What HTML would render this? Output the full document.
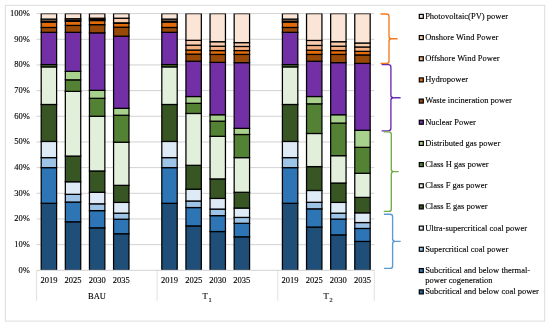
<!DOCTYPE html>
<html><head><meta charset="utf-8"><title>Power structure chart</title>
<style>html,body{margin:0;padding:0;background:#fff}svg text{white-space:pre}</style></head>
<body>
<svg width="550" height="326" viewBox="0 0 550 326" style="display:block">
<rect x="0" y="0" width="550" height="326" fill="#fff"/>
<rect x="5.3" y="5.3" width="539.4" height="315.8" fill="none" stroke="#d9d9d9" stroke-width="0.9"/>
<line x1="36.60" y1="270.30" x2="374.28" y2="270.30" stroke="#d0d0d0" stroke-width="0.95"/>
<line x1="36.60" y1="244.63" x2="374.28" y2="244.63" stroke="#d0d0d0" stroke-width="0.95"/>
<line x1="36.60" y1="218.96" x2="374.28" y2="218.96" stroke="#d0d0d0" stroke-width="0.95"/>
<line x1="36.60" y1="193.29" x2="374.28" y2="193.29" stroke="#d0d0d0" stroke-width="0.95"/>
<line x1="36.60" y1="167.62" x2="374.28" y2="167.62" stroke="#d0d0d0" stroke-width="0.95"/>
<line x1="36.60" y1="141.95" x2="374.28" y2="141.95" stroke="#d0d0d0" stroke-width="0.95"/>
<line x1="36.60" y1="116.28" x2="374.28" y2="116.28" stroke="#d0d0d0" stroke-width="0.95"/>
<line x1="36.60" y1="90.61" x2="374.28" y2="90.61" stroke="#d0d0d0" stroke-width="0.95"/>
<line x1="36.60" y1="64.94" x2="374.28" y2="64.94" stroke="#d0d0d0" stroke-width="0.95"/>
<line x1="36.60" y1="39.27" x2="374.28" y2="39.27" stroke="#d0d0d0" stroke-width="0.95"/>
<line x1="36.60" y1="13.60" x2="374.28" y2="13.60" stroke="#d0d0d0" stroke-width="0.95"/>
<line x1="36.60" y1="270.30" x2="36.60" y2="300.8" stroke="#d9d9d9" stroke-width="0.8"/>
<line x1="157.10" y1="270.30" x2="157.10" y2="300.8" stroke="#d9d9d9" stroke-width="0.8"/>
<line x1="277.80" y1="270.30" x2="277.80" y2="300.8" stroke="#d9d9d9" stroke-width="0.8"/>
<line x1="374.28" y1="270.30" x2="374.28" y2="300.8" stroke="#d9d9d9" stroke-width="0.8"/>
<text x="29.8" y="272.80" text-anchor="end" font-family="Liberation Serif, Times New Roman, serif" font-size="8.5" fill="#000" stroke="#000" stroke-width="0.12">0%</text>
<text x="29.8" y="247.13" text-anchor="end" font-family="Liberation Serif, Times New Roman, serif" font-size="8.5" fill="#000" stroke="#000" stroke-width="0.12">10%</text>
<text x="29.8" y="221.46" text-anchor="end" font-family="Liberation Serif, Times New Roman, serif" font-size="8.5" fill="#000" stroke="#000" stroke-width="0.12">20%</text>
<text x="29.8" y="195.79" text-anchor="end" font-family="Liberation Serif, Times New Roman, serif" font-size="8.5" fill="#000" stroke="#000" stroke-width="0.12">30%</text>
<text x="29.8" y="170.12" text-anchor="end" font-family="Liberation Serif, Times New Roman, serif" font-size="8.5" fill="#000" stroke="#000" stroke-width="0.12">40%</text>
<text x="29.8" y="144.45" text-anchor="end" font-family="Liberation Serif, Times New Roman, serif" font-size="8.5" fill="#000" stroke="#000" stroke-width="0.12">50%</text>
<text x="29.8" y="118.78" text-anchor="end" font-family="Liberation Serif, Times New Roman, serif" font-size="8.5" fill="#000" stroke="#000" stroke-width="0.12">60%</text>
<text x="29.8" y="93.11" text-anchor="end" font-family="Liberation Serif, Times New Roman, serif" font-size="8.5" fill="#000" stroke="#000" stroke-width="0.12">70%</text>
<text x="29.8" y="67.44" text-anchor="end" font-family="Liberation Serif, Times New Roman, serif" font-size="8.5" fill="#000" stroke="#000" stroke-width="0.12">80%</text>
<text x="29.8" y="41.77" text-anchor="end" font-family="Liberation Serif, Times New Roman, serif" font-size="8.5" fill="#000" stroke="#000" stroke-width="0.12">90%</text>
<text x="29.8" y="16.10" text-anchor="end" font-family="Liberation Serif, Times New Roman, serif" font-size="8.5" fill="#000" stroke="#000" stroke-width="0.12">100%</text>
<defs><clipPath id="plot"><rect x="36.60" y="13.45" width="337.68" height="256.35"/></clipPath></defs>
<g clip-path="url(#plot)">
<rect x="41.21" y="203.30" width="15.40" height="67.00" fill="#1f4e79" stroke="#000" stroke-width="1.25"/>
<rect x="41.21" y="167.62" width="15.40" height="35.68" fill="#2e75b6" stroke="#000" stroke-width="1.25"/>
<rect x="41.21" y="157.61" width="15.40" height="10.01" fill="#9dc3e6" stroke="#000" stroke-width="1.25"/>
<rect x="41.21" y="141.44" width="15.40" height="16.17" fill="#deebf7" stroke="#000" stroke-width="1.25"/>
<rect x="41.21" y="104.47" width="15.40" height="36.96" fill="#375623" stroke="#000" stroke-width="1.25"/>
<rect x="41.21" y="66.87" width="15.40" height="37.61" fill="#e2efda" stroke="#000" stroke-width="1.25"/>
<rect x="41.21" y="64.55" width="15.40" height="2.31" fill="#548235" stroke="#000" stroke-width="1.25"/>
<rect x="41.21" y="32.34" width="15.40" height="32.22" fill="#7330a6" stroke="#000" stroke-width="1.25"/>
<rect x="41.21" y="27.46" width="15.40" height="4.88" fill="#984807" stroke="#000" stroke-width="1.25"/>
<rect x="41.21" y="22.07" width="15.40" height="5.39" fill="#e36c0a" stroke="#000" stroke-width="1.25"/>
<rect x="41.21" y="21.04" width="15.40" height="1.03" fill="#f4b183" stroke="#000" stroke-width="1.25"/>
<rect x="41.21" y="19.09" width="15.40" height="1.95" fill="#f8cbad" stroke="#000" stroke-width="1.25"/>
<rect x="41.21" y="13.60" width="15.40" height="5.49" fill="#fbe5d6" stroke="#000" stroke-width="1.25"/>
<rect x="65.33" y="221.78" width="15.40" height="48.52" fill="#1f4e79" stroke="#000" stroke-width="1.25"/>
<rect x="65.33" y="202.02" width="15.40" height="19.77" fill="#2e75b6" stroke="#000" stroke-width="1.25"/>
<rect x="65.33" y="194.32" width="15.40" height="7.70" fill="#9dc3e6" stroke="#000" stroke-width="1.25"/>
<rect x="65.33" y="181.74" width="15.40" height="12.58" fill="#deebf7" stroke="#000" stroke-width="1.25"/>
<rect x="65.33" y="156.07" width="15.40" height="25.67" fill="#375623" stroke="#000" stroke-width="1.25"/>
<rect x="65.33" y="91.38" width="15.40" height="64.69" fill="#e2efda" stroke="#000" stroke-width="1.25"/>
<rect x="65.33" y="79.83" width="15.40" height="11.55" fill="#548235" stroke="#000" stroke-width="1.25"/>
<rect x="65.33" y="71.36" width="15.40" height="8.47" fill="#a9d18e" stroke="#000" stroke-width="1.25"/>
<rect x="65.33" y="32.34" width="15.40" height="39.02" fill="#7330a6" stroke="#000" stroke-width="1.25"/>
<rect x="65.33" y="25.41" width="15.40" height="6.93" fill="#984807" stroke="#000" stroke-width="1.25"/>
<rect x="65.33" y="21.30" width="15.40" height="4.11" fill="#e36c0a" stroke="#000" stroke-width="1.25"/>
<rect x="65.33" y="20.27" width="15.40" height="1.03" fill="#f4b183" stroke="#000" stroke-width="1.25"/>
<rect x="65.33" y="18.73" width="15.40" height="1.54" fill="#f8cbad" stroke="#000" stroke-width="1.25"/>
<rect x="65.33" y="13.60" width="15.40" height="5.13" fill="#fbe5d6" stroke="#000" stroke-width="1.25"/>
<rect x="89.45" y="227.82" width="15.40" height="42.48" fill="#1f4e79" stroke="#000" stroke-width="1.25"/>
<rect x="89.45" y="210.62" width="15.40" height="17.20" fill="#2e75b6" stroke="#000" stroke-width="1.25"/>
<rect x="89.45" y="203.81" width="15.40" height="6.80" fill="#9dc3e6" stroke="#000" stroke-width="1.25"/>
<rect x="89.45" y="192.26" width="15.40" height="11.55" fill="#deebf7" stroke="#000" stroke-width="1.25"/>
<rect x="89.45" y="170.96" width="15.40" height="21.31" fill="#375623" stroke="#000" stroke-width="1.25"/>
<rect x="89.45" y="116.28" width="15.40" height="54.68" fill="#e2efda" stroke="#000" stroke-width="1.25"/>
<rect x="89.45" y="98.31" width="15.40" height="17.97" fill="#548235" stroke="#000" stroke-width="1.25"/>
<rect x="89.45" y="90.35" width="15.40" height="7.96" fill="#a9d18e" stroke="#000" stroke-width="1.25"/>
<rect x="89.45" y="32.85" width="15.40" height="57.50" fill="#7330a6" stroke="#000" stroke-width="1.25"/>
<rect x="89.45" y="24.64" width="15.40" height="8.21" fill="#984807" stroke="#000" stroke-width="1.25"/>
<rect x="89.45" y="20.53" width="15.40" height="4.11" fill="#e36c0a" stroke="#000" stroke-width="1.25"/>
<rect x="89.45" y="19.50" width="15.40" height="1.03" fill="#f4b183" stroke="#000" stroke-width="1.25"/>
<rect x="89.45" y="18.22" width="15.40" height="1.28" fill="#f8cbad" stroke="#000" stroke-width="1.25"/>
<rect x="89.45" y="13.60" width="15.40" height="4.62" fill="#fbe5d6" stroke="#000" stroke-width="1.25"/>
<rect x="113.57" y="233.72" width="15.40" height="36.58" fill="#1f4e79" stroke="#000" stroke-width="1.25"/>
<rect x="113.57" y="219.22" width="15.40" height="14.50" fill="#2e75b6" stroke="#000" stroke-width="1.25"/>
<rect x="113.57" y="213.18" width="15.40" height="6.03" fill="#9dc3e6" stroke="#000" stroke-width="1.25"/>
<rect x="113.57" y="202.40" width="15.40" height="10.78" fill="#deebf7" stroke="#000" stroke-width="1.25"/>
<rect x="113.57" y="185.33" width="15.40" height="17.07" fill="#375623" stroke="#000" stroke-width="1.25"/>
<rect x="113.57" y="142.21" width="15.40" height="43.13" fill="#e2efda" stroke="#000" stroke-width="1.25"/>
<rect x="113.57" y="115.25" width="15.40" height="26.95" fill="#548235" stroke="#000" stroke-width="1.25"/>
<rect x="113.57" y="108.32" width="15.40" height="6.93" fill="#a9d18e" stroke="#000" stroke-width="1.25"/>
<rect x="113.57" y="36.19" width="15.40" height="72.13" fill="#7330a6" stroke="#000" stroke-width="1.25"/>
<rect x="113.57" y="27.21" width="15.40" height="8.98" fill="#984807" stroke="#000" stroke-width="1.25"/>
<rect x="113.57" y="23.35" width="15.40" height="3.85" fill="#e36c0a" stroke="#000" stroke-width="1.25"/>
<rect x="113.57" y="22.84" width="15.40" height="0.51" fill="#f4b183" stroke="#000" stroke-width="1.25"/>
<rect x="113.57" y="18.22" width="15.40" height="4.62" fill="#f8cbad" stroke="#000" stroke-width="1.25"/>
<rect x="113.57" y="13.60" width="15.40" height="4.62" fill="#fbe5d6" stroke="#000" stroke-width="1.25"/>
<rect x="161.81" y="203.30" width="15.40" height="67.00" fill="#1f4e79" stroke="#000" stroke-width="1.25"/>
<rect x="161.81" y="167.62" width="15.40" height="35.68" fill="#2e75b6" stroke="#000" stroke-width="1.25"/>
<rect x="161.81" y="157.61" width="15.40" height="10.01" fill="#9dc3e6" stroke="#000" stroke-width="1.25"/>
<rect x="161.81" y="141.44" width="15.40" height="16.17" fill="#deebf7" stroke="#000" stroke-width="1.25"/>
<rect x="161.81" y="104.47" width="15.40" height="36.96" fill="#375623" stroke="#000" stroke-width="1.25"/>
<rect x="161.81" y="66.87" width="15.40" height="37.61" fill="#e2efda" stroke="#000" stroke-width="1.25"/>
<rect x="161.81" y="64.55" width="15.40" height="2.31" fill="#548235" stroke="#000" stroke-width="1.25"/>
<rect x="161.81" y="32.34" width="15.40" height="32.22" fill="#7330a6" stroke="#000" stroke-width="1.25"/>
<rect x="161.81" y="27.46" width="15.40" height="4.88" fill="#984807" stroke="#000" stroke-width="1.25"/>
<rect x="161.81" y="22.07" width="15.40" height="5.39" fill="#e36c0a" stroke="#000" stroke-width="1.25"/>
<rect x="161.81" y="21.04" width="15.40" height="1.03" fill="#f4b183" stroke="#000" stroke-width="1.25"/>
<rect x="161.81" y="19.09" width="15.40" height="1.95" fill="#f8cbad" stroke="#000" stroke-width="1.25"/>
<rect x="161.81" y="13.60" width="15.40" height="5.49" fill="#fbe5d6" stroke="#000" stroke-width="1.25"/>
<rect x="185.93" y="225.89" width="15.40" height="44.41" fill="#1f4e79" stroke="#000" stroke-width="1.25"/>
<rect x="185.93" y="207.54" width="15.40" height="18.35" fill="#2e75b6" stroke="#000" stroke-width="1.25"/>
<rect x="185.93" y="200.99" width="15.40" height="6.55" fill="#9dc3e6" stroke="#000" stroke-width="1.25"/>
<rect x="185.93" y="189.18" width="15.40" height="11.81" fill="#deebf7" stroke="#000" stroke-width="1.25"/>
<rect x="185.93" y="165.31" width="15.40" height="23.87" fill="#375623" stroke="#000" stroke-width="1.25"/>
<rect x="185.93" y="113.46" width="15.40" height="51.85" fill="#e2efda" stroke="#000" stroke-width="1.25"/>
<rect x="185.93" y="103.32" width="15.40" height="10.14" fill="#548235" stroke="#000" stroke-width="1.25"/>
<rect x="185.93" y="96.51" width="15.40" height="6.80" fill="#a9d18e" stroke="#000" stroke-width="1.25"/>
<rect x="185.93" y="61.22" width="15.40" height="35.30" fill="#7330a6" stroke="#000" stroke-width="1.25"/>
<rect x="185.93" y="54.16" width="15.40" height="7.06" fill="#984807" stroke="#000" stroke-width="1.25"/>
<rect x="185.93" y="50.05" width="15.40" height="4.11" fill="#e36c0a" stroke="#000" stroke-width="1.25"/>
<rect x="185.93" y="45.17" width="15.40" height="4.88" fill="#f4b183" stroke="#000" stroke-width="1.25"/>
<rect x="185.93" y="40.30" width="15.40" height="4.88" fill="#f8cbad" stroke="#000" stroke-width="1.25"/>
<rect x="185.93" y="13.60" width="15.40" height="26.70" fill="#fbe5d6" stroke="#000" stroke-width="1.25"/>
<rect x="210.05" y="231.54" width="15.40" height="38.76" fill="#1f4e79" stroke="#000" stroke-width="1.25"/>
<rect x="210.05" y="215.62" width="15.40" height="15.92" fill="#2e75b6" stroke="#000" stroke-width="1.25"/>
<rect x="210.05" y="209.08" width="15.40" height="6.55" fill="#9dc3e6" stroke="#000" stroke-width="1.25"/>
<rect x="210.05" y="198.42" width="15.40" height="10.65" fill="#deebf7" stroke="#000" stroke-width="1.25"/>
<rect x="210.05" y="178.91" width="15.40" height="19.51" fill="#375623" stroke="#000" stroke-width="1.25"/>
<rect x="210.05" y="136.30" width="15.40" height="42.61" fill="#e2efda" stroke="#000" stroke-width="1.25"/>
<rect x="210.05" y="121.16" width="15.40" height="15.15" fill="#548235" stroke="#000" stroke-width="1.25"/>
<rect x="210.05" y="114.74" width="15.40" height="6.42" fill="#a9d18e" stroke="#000" stroke-width="1.25"/>
<rect x="210.05" y="62.37" width="15.40" height="52.37" fill="#7330a6" stroke="#000" stroke-width="1.25"/>
<rect x="210.05" y="54.42" width="15.40" height="7.96" fill="#984807" stroke="#000" stroke-width="1.25"/>
<rect x="210.05" y="50.56" width="15.40" height="3.85" fill="#e36c0a" stroke="#000" stroke-width="1.25"/>
<rect x="210.05" y="46.20" width="15.40" height="4.36" fill="#f4b183" stroke="#000" stroke-width="1.25"/>
<rect x="210.05" y="41.71" width="15.40" height="4.49" fill="#f8cbad" stroke="#000" stroke-width="1.25"/>
<rect x="210.05" y="13.60" width="15.40" height="28.11" fill="#fbe5d6" stroke="#000" stroke-width="1.25"/>
<rect x="234.17" y="236.80" width="15.40" height="33.50" fill="#1f4e79" stroke="#000" stroke-width="1.25"/>
<rect x="234.17" y="223.32" width="15.40" height="13.48" fill="#2e75b6" stroke="#000" stroke-width="1.25"/>
<rect x="234.17" y="217.42" width="15.40" height="5.90" fill="#9dc3e6" stroke="#000" stroke-width="1.25"/>
<rect x="234.17" y="208.05" width="15.40" height="9.37" fill="#deebf7" stroke="#000" stroke-width="1.25"/>
<rect x="234.17" y="192.26" width="15.40" height="15.79" fill="#375623" stroke="#000" stroke-width="1.25"/>
<rect x="234.17" y="157.61" width="15.40" height="34.65" fill="#e2efda" stroke="#000" stroke-width="1.25"/>
<rect x="234.17" y="134.51" width="15.40" height="23.10" fill="#548235" stroke="#000" stroke-width="1.25"/>
<rect x="234.17" y="128.34" width="15.40" height="6.16" fill="#a9d18e" stroke="#000" stroke-width="1.25"/>
<rect x="234.17" y="62.63" width="15.40" height="65.72" fill="#7330a6" stroke="#000" stroke-width="1.25"/>
<rect x="234.17" y="54.42" width="15.40" height="8.21" fill="#984807" stroke="#000" stroke-width="1.25"/>
<rect x="234.17" y="50.56" width="15.40" height="3.85" fill="#e36c0a" stroke="#000" stroke-width="1.25"/>
<rect x="234.17" y="46.46" width="15.40" height="4.11" fill="#f4b183" stroke="#000" stroke-width="1.25"/>
<rect x="234.17" y="42.61" width="15.40" height="3.85" fill="#f8cbad" stroke="#000" stroke-width="1.25"/>
<rect x="234.17" y="13.60" width="15.40" height="29.01" fill="#fbe5d6" stroke="#000" stroke-width="1.25"/>
<rect x="282.41" y="203.30" width="15.40" height="67.00" fill="#1f4e79" stroke="#000" stroke-width="1.25"/>
<rect x="282.41" y="167.62" width="15.40" height="35.68" fill="#2e75b6" stroke="#000" stroke-width="1.25"/>
<rect x="282.41" y="157.61" width="15.40" height="10.01" fill="#9dc3e6" stroke="#000" stroke-width="1.25"/>
<rect x="282.41" y="141.44" width="15.40" height="16.17" fill="#deebf7" stroke="#000" stroke-width="1.25"/>
<rect x="282.41" y="104.47" width="15.40" height="36.96" fill="#375623" stroke="#000" stroke-width="1.25"/>
<rect x="282.41" y="66.87" width="15.40" height="37.61" fill="#e2efda" stroke="#000" stroke-width="1.25"/>
<rect x="282.41" y="64.55" width="15.40" height="2.31" fill="#548235" stroke="#000" stroke-width="1.25"/>
<rect x="282.41" y="32.34" width="15.40" height="32.22" fill="#7330a6" stroke="#000" stroke-width="1.25"/>
<rect x="282.41" y="27.46" width="15.40" height="4.88" fill="#984807" stroke="#000" stroke-width="1.25"/>
<rect x="282.41" y="22.07" width="15.40" height="5.39" fill="#e36c0a" stroke="#000" stroke-width="1.25"/>
<rect x="282.41" y="21.04" width="15.40" height="1.03" fill="#f4b183" stroke="#000" stroke-width="1.25"/>
<rect x="282.41" y="19.09" width="15.40" height="1.95" fill="#f8cbad" stroke="#000" stroke-width="1.25"/>
<rect x="282.41" y="13.60" width="15.40" height="5.49" fill="#fbe5d6" stroke="#000" stroke-width="1.25"/>
<rect x="306.53" y="227.05" width="15.40" height="43.25" fill="#1f4e79" stroke="#000" stroke-width="1.25"/>
<rect x="306.53" y="208.82" width="15.40" height="18.23" fill="#2e75b6" stroke="#000" stroke-width="1.25"/>
<rect x="306.53" y="202.27" width="15.40" height="6.55" fill="#9dc3e6" stroke="#000" stroke-width="1.25"/>
<rect x="306.53" y="190.47" width="15.40" height="11.81" fill="#deebf7" stroke="#000" stroke-width="1.25"/>
<rect x="306.53" y="166.59" width="15.40" height="23.87" fill="#375623" stroke="#000" stroke-width="1.25"/>
<rect x="306.53" y="133.48" width="15.40" height="33.11" fill="#e2efda" stroke="#000" stroke-width="1.25"/>
<rect x="306.53" y="103.83" width="15.40" height="29.65" fill="#548235" stroke="#000" stroke-width="1.25"/>
<rect x="306.53" y="96.51" width="15.40" height="7.32" fill="#a9d18e" stroke="#000" stroke-width="1.25"/>
<rect x="306.53" y="61.22" width="15.40" height="35.30" fill="#7330a6" stroke="#000" stroke-width="1.25"/>
<rect x="306.53" y="54.42" width="15.40" height="6.80" fill="#984807" stroke="#000" stroke-width="1.25"/>
<rect x="306.53" y="50.18" width="15.40" height="4.24" fill="#e36c0a" stroke="#000" stroke-width="1.25"/>
<rect x="306.53" y="45.43" width="15.40" height="4.75" fill="#f4b183" stroke="#000" stroke-width="1.25"/>
<rect x="306.53" y="40.43" width="15.40" height="5.01" fill="#f8cbad" stroke="#000" stroke-width="1.25"/>
<rect x="306.53" y="13.60" width="15.40" height="26.83" fill="#fbe5d6" stroke="#000" stroke-width="1.25"/>
<rect x="330.65" y="234.88" width="15.40" height="35.42" fill="#1f4e79" stroke="#000" stroke-width="1.25"/>
<rect x="330.65" y="219.09" width="15.40" height="15.79" fill="#2e75b6" stroke="#000" stroke-width="1.25"/>
<rect x="330.65" y="213.18" width="15.40" height="5.90" fill="#9dc3e6" stroke="#000" stroke-width="1.25"/>
<rect x="330.65" y="202.40" width="15.40" height="10.78" fill="#deebf7" stroke="#000" stroke-width="1.25"/>
<rect x="330.65" y="183.02" width="15.40" height="19.38" fill="#375623" stroke="#000" stroke-width="1.25"/>
<rect x="330.65" y="155.68" width="15.40" height="27.34" fill="#e2efda" stroke="#000" stroke-width="1.25"/>
<rect x="330.65" y="123.08" width="15.40" height="32.60" fill="#548235" stroke="#000" stroke-width="1.25"/>
<rect x="330.65" y="114.74" width="15.40" height="8.34" fill="#a9d18e" stroke="#000" stroke-width="1.25"/>
<rect x="330.65" y="62.63" width="15.40" height="52.11" fill="#7330a6" stroke="#000" stroke-width="1.25"/>
<rect x="330.65" y="54.42" width="15.40" height="8.21" fill="#984807" stroke="#000" stroke-width="1.25"/>
<rect x="330.65" y="50.56" width="15.40" height="3.85" fill="#e36c0a" stroke="#000" stroke-width="1.25"/>
<rect x="330.65" y="46.20" width="15.40" height="4.36" fill="#f4b183" stroke="#000" stroke-width="1.25"/>
<rect x="330.65" y="41.71" width="15.40" height="4.49" fill="#f8cbad" stroke="#000" stroke-width="1.25"/>
<rect x="330.65" y="13.60" width="15.40" height="28.11" fill="#fbe5d6" stroke="#000" stroke-width="1.25"/>
<rect x="354.77" y="241.42" width="15.40" height="28.88" fill="#1f4e79" stroke="#000" stroke-width="1.25"/>
<rect x="354.77" y="228.46" width="15.40" height="12.96" fill="#2e75b6" stroke="#000" stroke-width="1.25"/>
<rect x="354.77" y="222.55" width="15.40" height="5.90" fill="#9dc3e6" stroke="#000" stroke-width="1.25"/>
<rect x="354.77" y="212.80" width="15.40" height="9.75" fill="#deebf7" stroke="#000" stroke-width="1.25"/>
<rect x="354.77" y="197.40" width="15.40" height="15.40" fill="#375623" stroke="#000" stroke-width="1.25"/>
<rect x="354.77" y="173.27" width="15.40" height="24.13" fill="#e2efda" stroke="#000" stroke-width="1.25"/>
<rect x="354.77" y="147.34" width="15.40" height="25.93" fill="#548235" stroke="#000" stroke-width="1.25"/>
<rect x="354.77" y="130.27" width="15.40" height="17.07" fill="#a9d18e" stroke="#000" stroke-width="1.25"/>
<rect x="354.77" y="63.40" width="15.40" height="66.87" fill="#7330a6" stroke="#000" stroke-width="1.25"/>
<rect x="354.77" y="54.93" width="15.40" height="8.47" fill="#984807" stroke="#000" stroke-width="1.25"/>
<rect x="354.77" y="51.33" width="15.40" height="3.59" fill="#e36c0a" stroke="#000" stroke-width="1.25"/>
<rect x="354.77" y="46.97" width="15.40" height="4.36" fill="#f4b183" stroke="#000" stroke-width="1.25"/>
<rect x="354.77" y="42.99" width="15.40" height="3.98" fill="#f8cbad" stroke="#000" stroke-width="1.25"/>
<rect x="354.77" y="13.60" width="15.40" height="29.39" fill="#fbe5d6" stroke="#000" stroke-width="1.25"/>
</g>
<text x="48.91" y="283.4" text-anchor="middle" font-family="Liberation Serif, Times New Roman, serif" font-size="8.5" fill="#000" stroke="#000" stroke-width="0.12">2019</text>
<text x="73.03" y="283.4" text-anchor="middle" font-family="Liberation Serif, Times New Roman, serif" font-size="8.5" fill="#000" stroke="#000" stroke-width="0.12">2025</text>
<text x="97.15" y="283.4" text-anchor="middle" font-family="Liberation Serif, Times New Roman, serif" font-size="8.5" fill="#000" stroke="#000" stroke-width="0.12">2030</text>
<text x="121.27" y="283.4" text-anchor="middle" font-family="Liberation Serif, Times New Roman, serif" font-size="8.5" fill="#000" stroke="#000" stroke-width="0.12">2035</text>
<text x="169.51" y="283.4" text-anchor="middle" font-family="Liberation Serif, Times New Roman, serif" font-size="8.5" fill="#000" stroke="#000" stroke-width="0.12">2019</text>
<text x="193.63" y="283.4" text-anchor="middle" font-family="Liberation Serif, Times New Roman, serif" font-size="8.5" fill="#000" stroke="#000" stroke-width="0.12">2025</text>
<text x="217.75" y="283.4" text-anchor="middle" font-family="Liberation Serif, Times New Roman, serif" font-size="8.5" fill="#000" stroke="#000" stroke-width="0.12">2030</text>
<text x="241.87" y="283.4" text-anchor="middle" font-family="Liberation Serif, Times New Roman, serif" font-size="8.5" fill="#000" stroke="#000" stroke-width="0.12">2035</text>
<text x="290.11" y="283.4" text-anchor="middle" font-family="Liberation Serif, Times New Roman, serif" font-size="8.5" fill="#000" stroke="#000" stroke-width="0.12">2019</text>
<text x="314.23" y="283.4" text-anchor="middle" font-family="Liberation Serif, Times New Roman, serif" font-size="8.5" fill="#000" stroke="#000" stroke-width="0.12">2025</text>
<text x="338.35" y="283.4" text-anchor="middle" font-family="Liberation Serif, Times New Roman, serif" font-size="8.5" fill="#000" stroke="#000" stroke-width="0.12">2030</text>
<text x="362.47" y="283.4" text-anchor="middle" font-family="Liberation Serif, Times New Roman, serif" font-size="8.5" fill="#000" stroke="#000" stroke-width="0.12">2035</text>
<text x="97.00" y="299.3" text-anchor="middle" font-family="Liberation Serif, Times New Roman, serif" font-size="8.5" fill="#000" stroke="#000" stroke-width="0.12">BAU</text>
<text x="207.10" y="299.3" text-anchor="middle" font-family="Liberation Serif, Times New Roman, serif" font-size="8.5" fill="#000" stroke="#000" stroke-width="0.12">T<tspan font-size="6.3" dy="2.4" dx="0.8">1</tspan></text>
<text x="328.10" y="299.3" text-anchor="middle" font-family="Liberation Serif, Times New Roman, serif" font-size="8.5" fill="#000" stroke="#000" stroke-width="0.12">T<tspan font-size="6.3" dy="2.4" dx="0.8">2</tspan></text>
<rect x="419.3" y="14.40" width="4" height="4" fill="#fbe5d6" stroke="#000" stroke-width="1.2"/>
<text x="425.15" y="18.80" font-family="Liberation Serif, Times New Roman, serif" font-size="8.5" fill="#000" stroke="#000" stroke-width="0.12">Photovoltaic(PV) power</text>
<rect x="419.3" y="35.57" width="4" height="4" fill="#f8cbad" stroke="#000" stroke-width="1.2"/>
<text x="425.15" y="39.97" font-family="Liberation Serif, Times New Roman, serif" font-size="8.5" fill="#000" stroke="#000" stroke-width="0.12">Onshore Wind Power</text>
<rect x="419.3" y="56.74" width="4" height="4" fill="#f4b183" stroke="#000" stroke-width="1.2"/>
<text x="425.15" y="61.14" font-family="Liberation Serif, Times New Roman, serif" font-size="8.5" fill="#000" stroke="#000" stroke-width="0.12">Offshore Wind Power</text>
<rect x="419.3" y="77.91" width="4" height="4" fill="#e36c0a" stroke="#000" stroke-width="1.2"/>
<text x="425.15" y="82.31" font-family="Liberation Serif, Times New Roman, serif" font-size="8.5" fill="#000" stroke="#000" stroke-width="0.12">Hydropower</text>
<rect x="419.3" y="99.08" width="4" height="4" fill="#984807" stroke="#000" stroke-width="1.2"/>
<text x="425.15" y="103.48" font-family="Liberation Serif, Times New Roman, serif" font-size="8.5" fill="#000" stroke="#000" stroke-width="0.12">Waste incineration power</text>
<rect x="419.3" y="120.25" width="4" height="4" fill="#7330a6" stroke="#000" stroke-width="1.2"/>
<text x="425.15" y="124.65" font-family="Liberation Serif, Times New Roman, serif" font-size="8.5" fill="#000" stroke="#000" stroke-width="0.12">Nuclear Power</text>
<rect x="419.3" y="141.42" width="4" height="4" fill="#a9d18e" stroke="#000" stroke-width="1.2"/>
<text x="425.15" y="145.82" font-family="Liberation Serif, Times New Roman, serif" font-size="8.5" fill="#000" stroke="#000" stroke-width="0.12">Distributed gas power</text>
<rect x="419.3" y="162.59" width="4" height="4" fill="#548235" stroke="#000" stroke-width="1.2"/>
<text x="425.15" y="166.99" font-family="Liberation Serif, Times New Roman, serif" font-size="8.5" fill="#000" stroke="#000" stroke-width="0.12">Class H gas power</text>
<rect x="419.3" y="183.76" width="4" height="4" fill="#e2efda" stroke="#000" stroke-width="1.2"/>
<text x="425.15" y="188.16" font-family="Liberation Serif, Times New Roman, serif" font-size="8.5" fill="#000" stroke="#000" stroke-width="0.12">Class F gas power</text>
<rect x="419.3" y="204.93" width="4" height="4" fill="#375623" stroke="#000" stroke-width="1.2"/>
<text x="425.15" y="209.33" font-family="Liberation Serif, Times New Roman, serif" font-size="8.5" fill="#000" stroke="#000" stroke-width="0.12">Class E gas power</text>
<rect x="419.3" y="226.10" width="4" height="4" fill="#deebf7" stroke="#000" stroke-width="1.2"/>
<text x="425.15" y="230.50" font-family="Liberation Serif, Times New Roman, serif" font-size="8.5" fill="#000" stroke="#000" stroke-width="0.12">Ultra-supercritical coal power</text>
<rect x="419.3" y="247.27" width="4" height="4" fill="#9dc3e6" stroke="#000" stroke-width="1.2"/>
<text x="425.15" y="251.67" font-family="Liberation Serif, Times New Roman, serif" font-size="8.5" fill="#000" stroke="#000" stroke-width="0.12">Supercritical coal power</text>
<rect x="419.3" y="268.55" width="4" height="4" fill="#2e75b6" stroke="#000" stroke-width="1.2"/>
<text x="425.15" y="272.95" font-family="Liberation Serif, Times New Roman, serif" font-size="8.5" fill="#000" stroke="#000" stroke-width="0.12">Subcritical and below thermal-</text>
<text x="425.3" y="283.05" font-family="Liberation Serif, Times New Roman, serif" font-size="8.5" fill="#000" stroke="#000" stroke-width="0.12">power cogeneration</text>
<rect x="419.3" y="289.90" width="4" height="4" fill="#27609b" stroke="#000" stroke-width="1.2"/>
<text x="425.15" y="294.30" font-family="Liberation Serif, Times New Roman, serif" font-size="8.5" fill="#000" stroke="#000" stroke-width="0.12">Subcritical and below coal power</text>
<path d="M380.5,14 H386.5 Q389,14 389,16.5 V36.25 Q389,38.75 391.5,38.75 H397.6 H391.5 Q389,38.75 389,41.25 V61.0 Q389,63.5 386.5,63.5 H380.5" fill="none" stroke="#f4791c" stroke-width="1.35"/>
<path d="M381.7,64.6 H388.4 Q390.9,64.6 390.9,67.1 V95.2 Q390.9,97.7 393.4,97.7 H400.6 H393.4 Q390.9,97.7 390.9,100.2 V128.3 Q390.9,130.8 388.4,130.8 H381.7" fill="none" stroke="#6c2bb0" stroke-width="1.35"/>
<path d="M383.8,131.9 H388.8 Q391.3,131.9 391.3,134.4 V169.15 Q391.3,171.65 393.8,171.65 H398.7 H393.8 Q391.3,171.65 391.3,174.15 V208.9 Q391.3,211.4 388.8,211.4 H383.8" fill="none" stroke="#70ad47" stroke-width="1.35"/>
<path d="M383.9,214.2 H390.1 Q392.6,214.2 392.6,216.7 V238.79999999999998 Q392.6,241.29999999999998 395.1,241.29999999999998 H400.7 H395.1 Q392.6,241.29999999999998 392.6,243.79999999999998 V265.9 Q392.6,268.4 390.1,268.4 H383.9" fill="none" stroke="#5b9bd5" stroke-width="1.35"/>
</svg>
</body></html>
